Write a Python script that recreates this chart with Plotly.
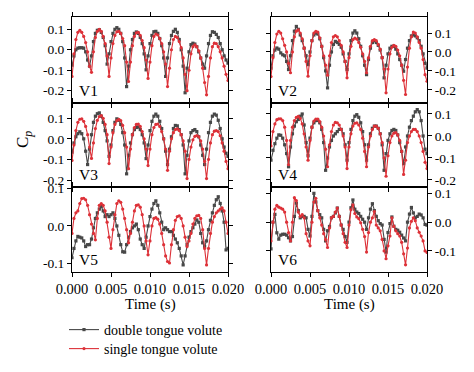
import plotly.graph_objects as go

# time axis (s), 81 samples
time_s = [round(i * 0.00025, 5) for i in range(81)]

v1_double = [-0.075, -0.03, 0.0, 0.008, 0.01, 0.01, 0.008, -0.01, -0.05, -0.08,
             -0.03, 0.04, 0.08, 0.095, 0.098, 0.085, 0.06, 0.02, -0.07, -0.02,
             0.04, 0.08, 0.10, 0.108, 0.1, 0.08, 0.04, -0.04, -0.18, -0.08,
             0.0, 0.05, 0.08, 0.087, 0.08, 0.06, 0.03, -0.02, -0.098, -0.03,
             0.03, 0.07, 0.088, 0.09, 0.08, 0.055, 0.02, -0.04, -0.13, -0.04,
             0.03, 0.07, 0.09, 0.1, 0.085, 0.05, 0.0, -0.08, -0.21, -0.09,
             -0.01, 0.025, 0.032, 0.028, 0.015, -0.01, -0.04, -0.07, -0.09, -0.03,
             0.03, 0.07, 0.088, 0.085, 0.075, 0.06, 0.03, 0.0, -0.03, -0.05, -0.065]
v1_single = [-0.13, -0.02, 0.05, 0.085, 0.095, 0.085, 0.065, 0.035, -0.01, -0.08,
             -0.11, -0.01, 0.06, 0.09, 0.10, 0.09, 0.065, 0.03, -0.03, -0.13,
             -0.04, 0.03, 0.07, 0.088, 0.09, 0.08, 0.055, 0.02, -0.06, -0.155,
             -0.06, 0.02, 0.065, 0.083, 0.085, 0.07, 0.045, 0.01, -0.05, -0.14,
             -0.06, 0.02, 0.065, 0.077, 0.072, 0.055, 0.03, -0.01, -0.07, -0.18,
             -0.09, 0.0, 0.05, 0.065, 0.06, 0.04, 0.01, -0.04, -0.12, -0.20,
             -0.10, -0.02, 0.015, 0.024, 0.015, -0.005, -0.04, -0.09, -0.16, -0.22,
             -0.13, -0.04, 0.015, 0.032, 0.03, 0.015, -0.01, -0.04, -0.08, -0.12, -0.15]

v2_double = [-0.085, -0.02, 0.01, 0.021, 0.015, -0.005, -0.015, -0.02, -0.05, -0.093,
             -0.02, 0.06, 0.11, 0.135, 0.12, 0.09, 0.06, 0.02, -0.02, -0.067,
             0.0, 0.06, 0.09, 0.1, 0.095, 0.07, 0.03, -0.03, -0.10, -0.19,
             -0.07, 0.0, 0.04, 0.056, 0.05, 0.04, 0.025, -0.01, -0.05, -0.093,
             -0.01, 0.06, 0.1, 0.112, 0.1, 0.07, 0.03, -0.02, -0.07, -0.12,
             -0.04, 0.02, 0.05, 0.059, 0.05, 0.035, 0.01, -0.03, -0.137, -0.07,
             -0.01, 0.02, 0.03, 0.03, 0.015, -0.01, -0.04, -0.07, -0.102, -0.04,
             0.02, 0.06, 0.085, 0.09, 0.085, 0.075, 0.06, 0.03, -0.01, -0.06, -0.085]
v2_single = [-0.13, -0.03, 0.05, 0.095, 0.109, 0.1, 0.07, 0.035, 0.0, -0.06,
             -0.11, 0.0, 0.08, 0.11, 0.117, 0.1, 0.07, 0.02, -0.05, -0.128,
             -0.02, 0.06, 0.1, 0.109, 0.105, 0.075, 0.03, -0.02, -0.07, -0.123,
             -0.02, 0.05, 0.08, 0.087, 0.08, 0.06, 0.035, 0.0, -0.05, -0.137,
             -0.03, 0.03, 0.065, 0.073, 0.068, 0.05, 0.025, -0.01, -0.05, -0.11,
             -0.03, 0.03, 0.06, 0.065, 0.06, 0.04, 0.015, -0.03, -0.09, -0.216,
             -0.09, -0.01, 0.025, 0.035, 0.03, 0.01, -0.02, -0.07, -0.15, -0.225,
             -0.08, 0.02, 0.08, 0.105, 0.1, 0.08, 0.05, 0.02, -0.04, -0.12, -0.155]

v3_double = [-0.065, -0.02, 0.01, 0.025, 0.034, 0.025, 0.0, -0.06, -0.125, -0.05,
             0.02, 0.08, 0.11, 0.122, 0.126, 0.11, 0.08, 0.04, -0.01, -0.085,
             -0.03, 0.04, 0.08, 0.097, 0.09, 0.07, 0.03, -0.03, -0.17, -0.08,
             -0.02, 0.02, 0.045, 0.055, 0.058, 0.045, 0.02, -0.02, -0.096, -0.03,
             0.04, 0.085, 0.11, 0.12, 0.11, 0.085, 0.05, 0.0, -0.06, -0.125,
             -0.05, 0.01, 0.05, 0.065, 0.063, 0.045, 0.02, -0.03, -0.17, -0.08,
             -0.01, 0.03, 0.04, 0.045, 0.035, 0.01, -0.03, -0.08, -0.125, -0.05,
             0.03, 0.08, 0.11, 0.12, 0.115, 0.09, 0.05, 0.0, -0.04, -0.07, -0.085]
v3_single = [-0.105, -0.03, 0.04, 0.08, 0.095, 0.097, 0.085, 0.06, 0.02, -0.04,
             -0.095, -0.02, 0.05, 0.09, 0.108, 0.113, 0.10, 0.07, 0.02, -0.12,
             -0.04, 0.03, 0.07, 0.088, 0.094, 0.088, 0.065, 0.03, -0.04, -0.145,
             -0.05, 0.02, 0.055, 0.07, 0.072, 0.06, 0.035, 0.0, -0.05, -0.13,
             -0.05, 0.02, 0.055, 0.07, 0.072, 0.06, 0.035, 0.0, -0.05, -0.153,
             -0.06, 0.0, 0.03, 0.045, 0.048, 0.04, 0.02, -0.01, -0.06, -0.193,
             -0.10, -0.04, -0.005, 0.012, 0.016, 0.01, -0.01, -0.05, -0.11, -0.193,
             -0.10, -0.02, 0.02, 0.037, 0.04, 0.035, 0.015, -0.02, -0.06, -0.11, -0.145]

v4_double = [-0.11, -0.065, -0.035, -0.01, 0.005, 0.003, -0.01, -0.04, -0.08, -0.14,
             -0.05, 0.01, 0.045, 0.065, 0.075, 0.09, 0.1, 0.05, -0.03, -0.09,
             -0.01, 0.04, 0.06, 0.07, 0.071, 0.06, 0.03, -0.03, -0.156, -0.1,
             -0.05, -0.02, 0.0, 0.01, 0.02, 0.03, 0.03, 0.01, -0.04, -0.11,
             -0.03, 0.03, 0.07, 0.09, 0.097, 0.085, 0.06, 0.02, -0.04, -0.11,
             -0.04, 0.01, 0.035, 0.045, 0.045, 0.035, 0.01, -0.04, -0.156, -0.08,
             -0.02, 0.01, 0.025, 0.03, 0.025, 0.005, -0.03, -0.07, -0.126, -0.05,
             0.0, 0.04, 0.07, 0.09, 0.11, 0.12, 0.11, 0.07, 0.0, -0.06, -0.08]
v4_single = [-0.045, 0.02, 0.055, 0.074, 0.078, 0.078, 0.07, 0.04, -0.02, -0.13,
             -0.02, 0.04, 0.07, 0.085, 0.089, 0.08, 0.055, 0.01, -0.05, -0.11,
             -0.02, 0.04, 0.068, 0.077, 0.077, 0.065, 0.04, 0.0, -0.06, -0.14,
             -0.04, 0.02, 0.05, 0.062, 0.06, 0.05, 0.03, 0.0, -0.05, -0.148,
             -0.05, 0.01, 0.045, 0.058, 0.06, 0.05, 0.03, -0.01, -0.07, -0.14,
             -0.05, 0.0, 0.03, 0.045, 0.045, 0.035, 0.01, -0.03, -0.1, -0.183,
             -0.09, -0.03, 0.0, 0.013, 0.015, 0.005, -0.02, -0.07, -0.175, -0.11,
             -0.03, 0.0, 0.02, 0.03, 0.03, 0.02, 0.0, -0.03, -0.07, -0.12, -0.148]

v5_double = [-0.085, -0.06, -0.04, -0.028, -0.03, -0.032, -0.04, -0.055, -0.05, -0.05,
             -0.035, -0.005, 0.02, 0.035, 0.045, 0.052, 0.04, 0.025, 0.03, 0.025,
             0.03, 0.035, 0.02, 0.0, -0.025, -0.05, -0.069, -0.07, -0.05, -0.03,
             -0.015, -0.005, 0.0, 0.005, -0.01, -0.035, -0.05, -0.06, -0.03, 0.0,
             0.025, 0.045, 0.06, 0.067, 0.055, 0.035, 0.01, -0.01, -0.005, -0.01,
             -0.015, -0.015, -0.025, -0.035, -0.045, -0.06, -0.08, -0.104, -0.08, -0.05,
             -0.03, -0.015, -0.005, 0.005, 0.016, 0.01, -0.02, -0.045, -0.055, -0.04,
             -0.01, 0.015, 0.035, 0.055, 0.07, 0.078, 0.06, 0.04, 0.01, -0.064, -0.06]
v5_single = [-0.02, 0.02, 0.035, 0.04, 0.06, 0.073, 0.074, 0.07, 0.055, 0.03,
             0.005, -0.02, -0.037, 0.02, 0.055, 0.06, 0.055, 0.04, 0.01, -0.03,
             -0.06, -0.01, 0.03, 0.06, 0.067, 0.063, 0.045, 0.02, -0.01, -0.045,
             -0.02, 0.01, 0.04, 0.055, 0.056, 0.05, 0.03, 0.0, -0.04, -0.077,
             -0.04, 0.0, 0.02, 0.022, 0.018, 0.005, -0.02, -0.05, -0.08, -0.095,
             -0.099, -0.05, -0.01, 0.015, 0.025, 0.027, 0.02, 0.0, -0.03, -0.055,
             -0.04, -0.02, 0.005, 0.02, 0.027, 0.028, 0.02, -0.01, -0.06, -0.104,
             -0.06, -0.02, 0.01, 0.025, 0.035, 0.04, 0.045, 0.048, 0.04, 0.01, -0.02]

v6_double = [-0.093, 0.0, 0.027, -0.037, -0.059, -0.045, -0.042, -0.042, -0.045, -0.054,
             -0.065, -0.05, 0.02, 0.066, 0.04, 0.015, 0.02, 0.02, 0.015, -0.025,
             -0.048, 0.02, 0.1, 0.07, 0.04, 0.026, 0.015, -0.025, -0.065, -0.03,
             -0.015, 0.015, 0.02, 0.032, 0.049, 0.02, -0.01, -0.025, -0.05, -0.07,
             0.0, 0.05, 0.077, 0.045, 0.035, 0.03, 0.02, 0.01, 0.0, -0.025,
             0.015, 0.045, 0.064, 0.04, 0.02, 0.005, -0.005, -0.01, -0.06, -0.104,
             -0.036, -0.005, 0.018, -0.014, -0.025, -0.028, -0.035, -0.045, -0.055, -0.065,
             0.0, 0.028, 0.051, 0.032, 0.015, 0.02, 0.028, 0.025, 0.015, -0.008, -0.01]
v6_single = [-0.065, 0.0, 0.045, 0.058, 0.052, 0.049, 0.045, 0.035, 0.0, -0.036,
             -0.065, 0.0, 0.085, 0.075, 0.035, 0.02, 0.026, 0.015, -0.04, -0.065,
             -0.082, 0.0, 0.07, 0.083, 0.04, 0.015, -0.01, -0.04, -0.06, -0.088,
             -0.02, 0.015, 0.02, 0.035, 0.049, 0.02, -0.01, -0.04, -0.07, -0.088,
             -0.01, 0.043, 0.06, 0.03, 0.018, 0.012, -0.002, -0.025, -0.05, -0.104,
             -0.036, 0.0, 0.015, 0.037, -0.01, -0.02, -0.03, -0.06, -0.1, -0.127,
             -0.082, -0.048, 0.015, -0.015, -0.03, -0.04, -0.048, -0.07, -0.11, -0.148,
             -0.09, -0.02, 0.003, 0.015, 0.005, -0.02, -0.035, -0.048, -0.065, -0.1, -0.105]

panel_names = ["V1", "V2", "V3", "V4", "V5", "V6"]
double_series = [v1_double, v2_double, v3_double, v4_double, v5_double, v6_double]
single_series = [v1_single, v2_single, v3_single, v4_single, v5_single, v6_single]
y_ranges = [[-0.26, 0.16], [-0.27, 0.185], [-0.234, 0.174],
            [-0.232, 0.15], [-0.123, 0.104], [-0.173, 0.122]]
y_ticks = [[-0.2, -0.1, 0.0, 0.1], [-0.2, -0.1, 0.0, 0.1], [-0.2, -0.1, 0.0, 0.1],
           [-0.2, -0.1, 0.0, 0.1], [-0.1, 0.0, 0.1], [-0.1, 0.0, 0.1]]
x_ticks = [0.0, 0.005, 0.010, 0.015, 0.020]
x_ticktext = ["0.000", "0.005", "0.010", "0.015", "0.020"]
legend_names = ["double tongue volute", "single tongue volute"]

W, H = 474, 372
FONT = "Liberation Serif"
GRAY = "#484848"
RED = "#dd3138"

col_px = [(72, 228), (271, 427)]
row_px = [(17, 103), (103, 187), (187, 272)]

fig = go.Figure()
legend_common = dict(xanchor="left", yanchor="top", font=dict(family=FONT, size=14),
                     bgcolor="rgba(0,0,0,0)", itemwidth=30)
layout = dict(
    width=W, height=H, autosize=False,
    margin=dict(l=0, r=0, t=0, b=0, pad=0),
    paper_bgcolor="white", plot_bgcolor="white",
    font=dict(family=FONT, size=14, color="black"),
    showlegend=True,
    legend=dict(x=64 / W, y=1 - 314 / H, **legend_common),
    legend2=dict(x=64 / W, y=1 - 333 / H, **legend_common),
)
annotations = []

for k in range(6):
    r, c = k // 2, k % 2
    n = k + 1
    xa = "x" if n == 1 else f"x{n}"
    ya = "y" if n == 1 else f"y{n}"
    fig.add_trace(go.Scatter(
        x=time_s, y=double_series[k], xaxis=xa, yaxis=ya,
        mode="lines+markers", name=legend_names[0], legendgroup="d",
        legend="legend", showlegend=(k == 0),
        line=dict(color=GRAY, width=1.1),
        marker=dict(color=GRAY, size=3.2, symbol="square")))
    fig.add_trace(go.Scatter(
        x=time_s, y=single_series[k], xaxis=xa, yaxis=ya,
        mode="lines+markers", name=legend_names[1], legendgroup="s",
        legend="legend2", showlegend=(k == 0),
        line=dict(color=RED, width=1.1),
        marker=dict(color=RED, size=3.2, symbol="circle")))
    x0, x1 = col_px[c]
    y0, y1 = row_px[r]
    xkey = "xaxis" if n == 1 else f"xaxis{n}"
    ykey = "yaxis" if n == 1 else f"yaxis{n}"
    layout[xkey] = dict(
        domain=[x0 / W, x1 / W], anchor=ya, range=[0, 0.02],
        tickvals=x_ticks, ticktext=x_ticktext, showticklabels=(r == 2),
        ticks="outside", ticklen=4, tickwidth=1, tickcolor="black",
        showline=True, linecolor="black", linewidth=1, mirror="ticks",
        showgrid=False, zeroline=False, automargin=False,
        tickfont=dict(family=FONT, size=14.5))
    layout[ykey] = dict(
        domain=[1 - y1 / H, 1 - y0 / H], anchor=xa, range=y_ranges[k],
        tickvals=y_ticks[k], ticktext=[f"{v:.1f}" for v in y_ticks[k]],
        side="left" if c == 0 else "right",
        ticks="outside", ticklen=4, tickwidth=1, tickcolor="black",
        showline=True, linecolor="black", linewidth=1, mirror="ticks",
        showgrid=False, zeroline=False, automargin=False,
        tickfont=dict(family=FONT, size=13.5))
    annotations.append(dict(
        text=panel_names[k], xref=f"{xa} domain", yref=f"{ya} domain",
        x=0.035, y=0.02, xanchor="left", yanchor="bottom", showarrow=False,
        font=dict(family=FONT, size=15.5)))

for c in range(2):
    x0, x1 = col_px[c]
    annotations.append(dict(
        text="Time (s)", xref="paper", yref="paper",
        x=(x0 + x1) / 2 / W, y=1 - 304 / H, xanchor="center", yanchor="middle",
        showarrow=False, font=dict(family=FONT, size=15)))

annotations.append(dict(
    text="C<sub><i>p</i></sub>", xref="paper", yref="paper",
    x=24 / W, y=1 - 140 / H, xanchor="center", yanchor="middle",
    textangle=-90, showarrow=False, font=dict(family=FONT, size=17)))

layout["annotations"] = annotations
fig.update_layout(**layout)
fig.write_html(
    "out.html",
    config={"displayModeBar": False},
    post_script="document.body.style.margin='0';document.body.style.padding='0';"
                "document.body.style.overflow='hidden';",
)
